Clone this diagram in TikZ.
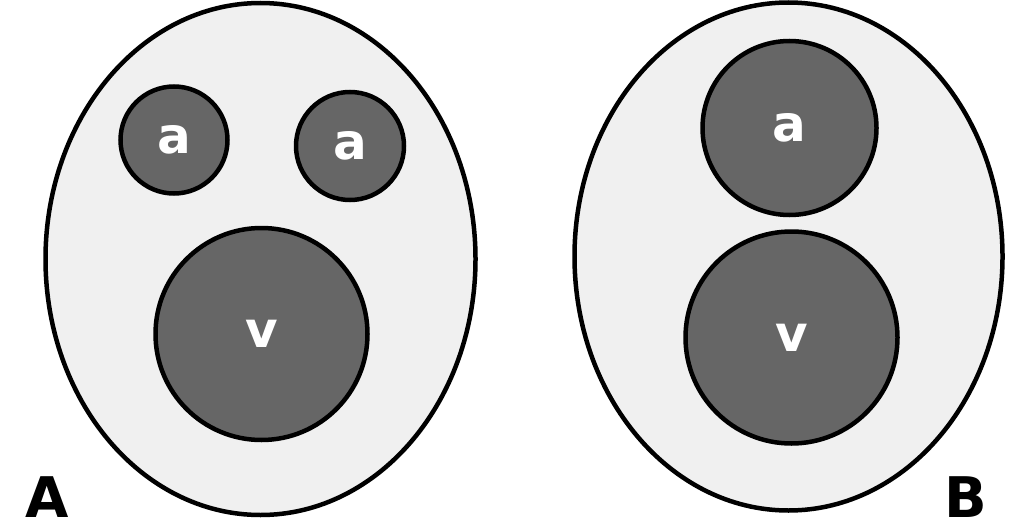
\documentclass[tikz,border=0pt]{standalone}
\usepackage{fontspec}
\setsansfont{DejaVu Sans}
\usetikzlibrary{positioning,shapes.geometric}

\definecolor{cellgray}{gray}{0.94}
\definecolor{orggray}{gray}{0.4}

\tikzset{
  cell/.style={ellipse, draw, line width=4.5pt, fill=cellgray, inner sep=0pt},
  organelle/.style={circle, draw, line width=4.5pt, fill=orggray, text=white,
    inner sep=0pt, font=\sffamily\bfseries\fontsize{50}{54}\selectfont},
  panel/.style={font=\sffamily\bfseries\fontsize{56}{60}\selectfont}
}

\begin{document}
\begin{tikzpicture}[x=1pt, y=-1pt]
  \useasboundingbox (0, 0) rectangle (1024, 532);
  % panel A
  \node[cell, minimum width=430pt, minimum height=512pt] (cellA) at (260.5, 259) {};
  \node[organelle, minimum size=107pt] (aLeft) at (174, 140) {a};
  \node[organelle, minimum size=108pt] (aRight) at (350, 146) {a};
  \node[organelle, minimum size=212pt] (vA) at (261.5, 334) {v};
  \node[panel] (labelA) at (47, 497) {A};
  % panel B
  \node[cell, minimum width=428pt, minimum height=508pt] (cellB) at (788.5, 256.5) {};
  \node[organelle, minimum size=174pt] (aB) at (789.5, 128) {a};
  \node[organelle, minimum size=212pt] (vB) at (791.5, 337.5) {v};
  \node[panel] (labelB) at (966, 497) {B};
\end{tikzpicture}
\end{document}
